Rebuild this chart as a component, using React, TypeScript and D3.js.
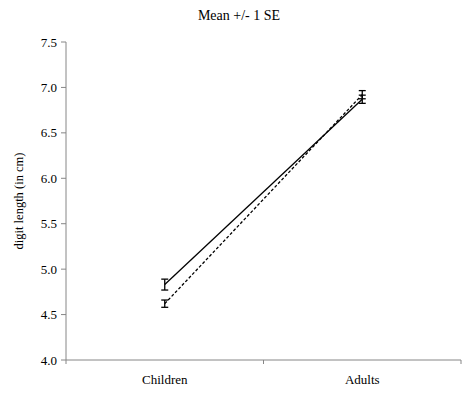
import React from "react";
import * as d3 from "d3";

const categories = ["Children", "Adults"];
const yTicks = [4.0, 4.5, 5.0, 5.5, 6.0, 6.5, 7.0, 7.5];
// two groups, means and standard errors
const solidMeans = [4.83, 6.87];
const solidSE = [0.06, 0.045];
const dashedMeans = [4.62, 6.92];
const dashedSE = [0.04, 0.045];

const W = 474;
const H = 399;
const left = 66;
const right = 461;
const top = 42;
const bottom = 360;

const App = () => {
  const x = d3.scaleBand().domain(categories).range([left, right]);
  const y = d3.scaleLinear().domain([4, 7.5]).range([bottom, top]);
  const cx = (c) => (x(c) as number) + x.bandwidth() / 2;

  const line = d3
    .line<number>()
    .x((_, i) => cx(categories[i]))
    .y((d) => y(d));

  const series = [
    { means: solidMeans, se: solidSE, dash: "none" },
    { means: dashedMeans, se: dashedSE, dash: "3 2" },
  ];

  const font = "'Liberation Serif', 'Times New Roman', serif";

  return (
    <svg width={W} height={H} style={{ position: "absolute", left: 0, top: 0 }} fontFamily={font}>
      <rect width={W} height={H} fill="#fff" />
      <text x={239} y={20} textAnchor="middle" fontSize={14} fill="#000">
        Mean +/- 1 SE
      </text>
      {/* y axis */}
      <line x1={left} x2={left} y1={top} y2={bottom} stroke="#868686" />
      {yTicks.map((t) => (
        <g key={t}>
          <line x1={left - 5} x2={left} y1={y(t)} y2={y(t)} stroke="#868686" />
          <text x={left - 9} y={y(t) + 4.5} textAnchor="end" fontSize={13} fill="#000">
            {t.toFixed(1)}
          </text>
        </g>
      ))}
      <text
        transform={`translate(23,${(top + bottom) / 2}) rotate(-90)`}
        textAnchor="middle"
        fontSize={12.5}
        fill="#000"
      >
        digit length (in cm)
      </text>
      {/* x axis */}
      <line x1={left} x2={right} y1={bottom} y2={bottom} stroke="#868686" />
      {[left, left + x.bandwidth(), right].map((p, i) => (
        <line key={i} x1={p} x2={p} y1={bottom} y2={bottom + 4} stroke="#868686" />
      ))}
      {categories.map((c) => (
        <text key={c} x={cx(c)} y={bottom + 24} textAnchor="middle" fontSize={13} fill="#000">
          {c}
        </text>
      ))}
      {series.map((s, si) => (
        <g key={si}>
          <path d={line(s.means) || ""} fill="none" stroke="#000" strokeWidth={1.3} strokeDasharray={s.dash} />
          {s.means.map((m, i) => {
            const px = cx(categories[i]);
            const y1 = y(m + s.se[i]);
            const y2 = y(m - s.se[i]);
            return (
              <g key={i} stroke="#000" strokeWidth={1.3}>
                <line x1={px} x2={px} y1={y1} y2={y2} />
                <line x1={px - 3.5} x2={px + 3.5} y1={y1} y2={y1} />
                <line x1={px - 3.5} x2={px + 3.5} y1={y2} y2={y2} />
              </g>
            );
          })}
        </g>
      ))}
    </svg>
  );
};

export default App;
